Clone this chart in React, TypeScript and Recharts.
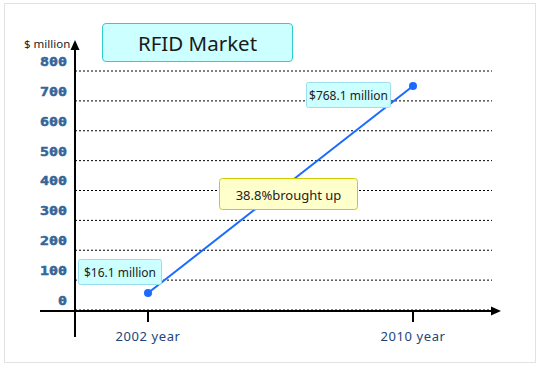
import { LineChart, Line, XAxis, YAxis, CartesianGrid, LabelList } from 'recharts';

const years = ['2002 year', '2010 year'];
// heights as drawn in the picture
const marketValues = [57, 750];
const valueLabels = ['$16.1 million', '$768.1 million'];
const yTicks = [0, 100, 200, 300, 400, 500, 600, 700, 800];
const growthNote = '38.8%brought up';

const data = years.map((year, i) => ({ year, value: marketValues[i], label: valueLabels[i] }));

const W = 542;
const H = 365;
const PLOT_LEFT = 75;
const PLOT_BOTTOM = 310;
const LINE_COLOR = '#1a6bff';
const SANS = '"Noto Sans", "DejaVu Sans", sans-serif';

const YTick = ({ x, y, payload }: any) => (
  <g transform={`translate(${x},${y - 9}) scale(1.3,1)`}>
    <text
      x={0}
      y={0}
      textAnchor="end"
      dominantBaseline="central"
      fill="#336699"
      stroke="#336699"
      strokeWidth={0.5}
      fontFamily='"DejaVu Sans Mono", monospace'
      fontWeight="bold"
      fontSize={11.5}
    >
      {payload.value}
    </text>
  </g>
);

const XTick = ({ x, y, payload }: any) => (
  <text x={x} y={y} dy="1em" textAnchor="middle" fill="#22457a" fontFamily={SANS} fontSize={13} letterSpacing={0.6}>
    {payload.value}
  </text>
);

const ValueTag = (props: any) => {
  const { x, y, index, value } = props;
  const w = index === 0 ? 83 : 84;
  const h = 25;
  const left = index === 0 ? x - 70 : x - 107;
  const top = index === 0 ? y - 34 : y - 4;
  return (
    <g>
      <rect x={left + 0.5} y={top + 0.5} width={w} height={h} rx={2} fill="#ccffff" stroke="#99ddee" />
      <text x={left + w / 2 + 0.5} y={top + h / 2 + 1} textAnchor="middle" dominantBaseline="central" fill="#222" fontFamily={SANS} fontSize={12}>
        {value}
      </text>
    </g>
  );
};

export default function App() {
  return (
    <div style={{ position: 'absolute', left: 0, top: 0, width: W, height: H, background: '#fff', fontFamily: SANS }}>
      <div
        style={{
          position: 'absolute',
          left: 4,
          top: 3,
          width: 532,
          height: 360,
          border: '1px solid #e2e2e2',
          boxSizing: 'border-box',
        }}
      />
      <div
        style={{
          position: 'absolute',
          left: 102,
          top: 23,
          width: 191,
          height: 39,
          background: '#ccffff',
          border: '1px solid #33cccc',
          borderRadius: 4,
          boxSizing: 'border-box',
          display: 'flex',
          alignItems: 'center',
          justifyContent: 'center',
          fontSize: 20.5,
          color: '#1a1a1a',
        }}
      >
        RFID Market
      </div>
      <div style={{ position: 'absolute', left: 24, top: 36, fontSize: 11.5, color: '#222' }}>$ million</div>

      <div style={{ position: 'absolute', left: 0, top: 0 }}>
        <LineChart width={W} height={H} data={data} margin={{ top: 71, right: 50, bottom: 25, left: 15 }}>
          <CartesianGrid horizontal vertical={false} stroke="#000" strokeDasharray="2 2" />
          <XAxis
            dataKey="year"
            padding={{ left: 73, right: 79 }}
            axisLine={false}
            tickSize={12}
            tickLine={{ stroke: '#000', strokeWidth: 2 }}
            tickMargin={6}
            tick={<XTick />}
            height={30}
          />
          <YAxis
            domain={[0, 800]}
            ticks={yTicks}
            axisLine={false}
            tickLine={false}
            tickSize={0}
            tickMargin={8}
            tick={<YTick />}
            width={60}
          />
          <Line
            type="linear"
            dataKey="value"
            stroke={LINE_COLOR}
            strokeWidth={2}
            dot={{ r: 4, fill: LINE_COLOR, stroke: LINE_COLOR, strokeWidth: 0 }}
            isAnimationActive={false}
          >
            <LabelList dataKey="label" content={<ValueTag />} />
          </Line>
        </LineChart>
      </div>

      <svg width={W} height={H} style={{ position: 'absolute', left: 0, top: 0, pointerEvents: 'none' }}>
        <line x1={PLOT_LEFT} y1={337} x2={PLOT_LEFT} y2={46} stroke="#000" strokeWidth={2} />
        <polygon points={`${PLOT_LEFT},40 ${PLOT_LEFT - 4.5},50 ${PLOT_LEFT + 4.5},50`} fill="#000" />
        <line x1={40} y1={PLOT_BOTTOM + 1} x2={494} y2={PLOT_BOTTOM + 1} stroke="#000" strokeWidth={2} />
        <polygon points={`501,${PLOT_BOTTOM + 1} 491,${PLOT_BOTTOM - 3.5} 491,${PLOT_BOTTOM + 5.5}`} fill="#000" />
        <rect x={219.5} y={178.5} width={138} height={31} rx={3} fill="#ffffcc" stroke="#cccc00" />
        <text x={288.5} y={195} textAnchor="middle" dominantBaseline="central" fill="#222" fontFamily={SANS} fontSize={13}>
          {growthNote}
        </text>
      </svg>
    </div>
  );
}
